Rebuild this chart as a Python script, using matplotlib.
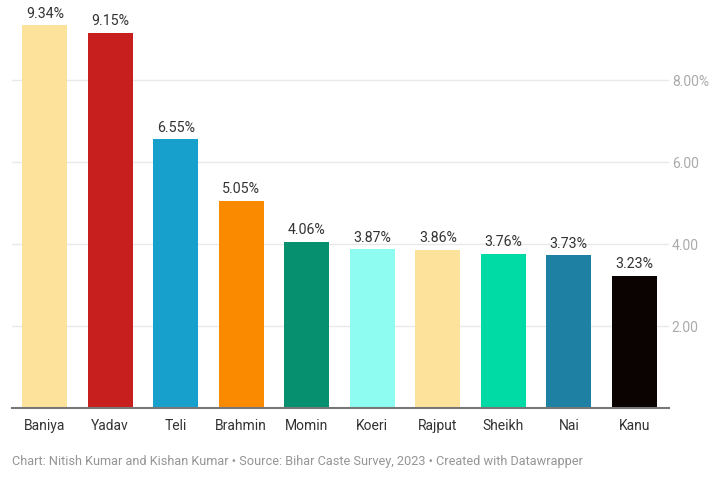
import matplotlib
matplotlib.use("Agg")
import matplotlib.pyplot as plt
from matplotlib.ticker import FixedLocator, FixedFormatter

castes = ["Baniya", "Yadav", "Teli", "Brahmin", "Momin", "Koeri", "Rajput", "Sheikh", "Nai", "Kanu"]
shares = [9.34, 9.15, 6.55, 5.05, 4.06, 3.87, 3.86, 3.76, 3.73, 3.23]
colors = ["#fde29b", "#c71f1d", "#18a0cc", "#fa8b00", "#07906f", "#8efcf1",
          "#fde29b", "#00dba6", "#1e81a3", "#0b0202"]
ytick_vals = [2, 4, 6, 8]
ytick_labels = ["2.00", "4.00", "6.00", "8.00%"]
footer = "Chart: Nitish Kumar and Kishan Kumar \u2022 Source: Bihar Caste Survey, 2023 \u2022 Created with Datawrapper"

plt.rcParams['font.family'] = ['Roboto', 'DejaVu Sans']

fig = plt.figure(figsize=(7.2, 4.81), dpi=100)
ax = fig.add_axes([12/720, 1 - 409/481, (669 - 12)/720, 409/481])

x = list(range(len(castes)))
ax.bar(x, shares, width=0.69, color=colors, zorder=2)
for xi, v in zip(x, shares):
    ax.annotate(f"{v:.2f}%", (xi, v), xytext=(0, 4), textcoords="offset points",
                ha="center", va="bottom", fontsize=10.2, color="#333333")

ax.set_xlim(-0.5, 9.53)
ax.set_ylim(0, 409/41)

ax.yaxis.tick_right()
ax.yaxis.set_major_locator(FixedLocator(ytick_vals))
ax.yaxis.set_major_formatter(FixedFormatter(ytick_labels))
ax.tick_params(axis="y", length=0, pad=2, labelsize=10, labelcolor="#aaaaaa")
ax.grid(axis="y", color="#e9e9e9", linewidth=1, zorder=0)
ax.set_axisbelow(True)

ax.set_xticks(x)
ax.set_xticklabels(castes)
ax.tick_params(axis="x", length=0, pad=7, labelsize=10, labelcolor="#333333")

for s in ["top", "right", "left"]:
    ax.spines[s].set_visible(False)
ax.spines["bottom"].set_color("#777777")
ax.spines["bottom"].set_linewidth(1.5)

fig.text(12/720, 1 - 462/481, footer, fontsize=9.2, color="#959595", ha="left", va="center")

fig.savefig("out.png", dpi=100)
